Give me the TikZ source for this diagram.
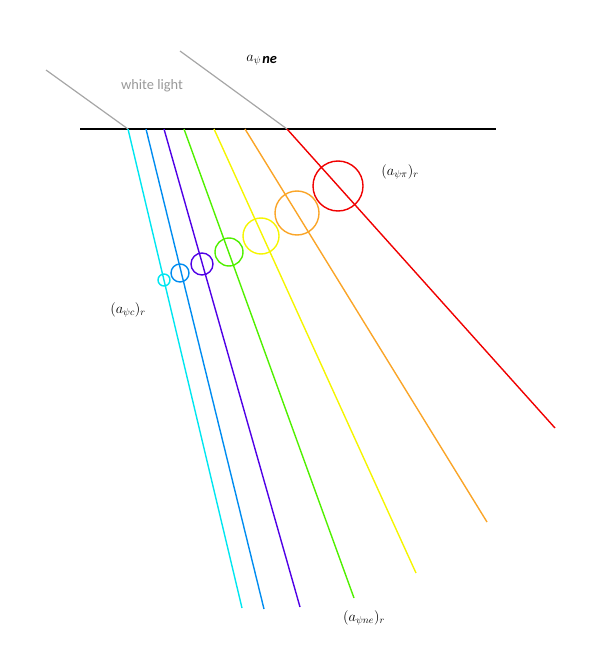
\documentclass[tikz,border=0pt]{standalone}
\usepackage{fontspec}
\newfontfamily\lab{Carlito}
\begin{document}
\begin{tikzpicture}[x=1pt,y=-1pt,ray/.style={line width=1.4pt},ring/.style={line width=1.4pt}]
\useasboundingbox (0,0) rectangle (603,650);
\definecolor{cy}{RGB}{0,230,240}\definecolor{bl}{RGB}{0,140,240}
\definecolor{pu}{RGB}{80,0,230}\definecolor{gr}{RGB}{80,240,0}
\definecolor{ye}{RGB}{245,245,0}\definecolor{or}{RGB}{250,165,40}
\definecolor{re}{RGB}{240,0,0}
\coordinate (sL) at (80,129); \coordinate (sR) at (496,129);
\draw[line width=1.4pt] (sL) -- (sR);
\coordinate (w0) at (46,70); \coordinate (w1) at (128,129);
\coordinate (n0) at (180,51); \coordinate (n1) at (287,129);
\draw[gray!70,line width=1.2pt] (w0) -- (w1);
\draw[gray!70,line width=1.2pt] (n0) -- (n1);
\foreach \c/\xa/\xb/\yb/\cx/\cy/\r in {cy/128/242/608/164/280/6,bl/146/264/609/180/273/9,pu/164/300/607/202/264/11,gr/184/354/598/229/252/14,ye/214/416/573/261/236/18,or/245/487/522/297/213/22,re/287/555/428/338/186/25}{
 \coordinate (a\c) at (\xa,129); \coordinate (b\c) at (\xb,\yb);
 \draw[ray,\c] (a\c) -- (b\c);
 \draw[ring,\c] (\cx,\cy) circle[radius=\r];
}
\node[text=gray!80,font=\lab\Large] (wl) at (152,86) {white light};
\node (ane) at (262,60) {\Large$a_{\psi\,\mbox{\lab\itshape\bfseries ne}}$};
\node (api) at (400,172) {\Large$(a_{\psi\pi})_r$};
\node (ac) at (128,310) {\Large$(a_{\psi c})_r$};
\node (anr) at (364,618) {\Large$(a_{\psi ne})_r$};
\end{tikzpicture}
\end{document}
